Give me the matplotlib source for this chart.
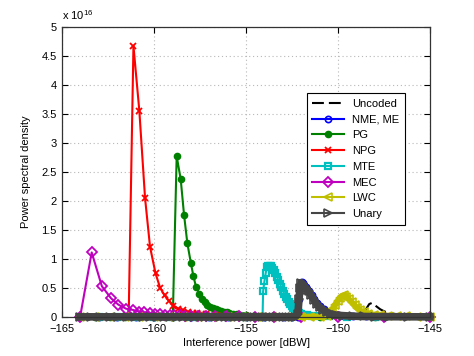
import matplotlib.pyplot as plt

plt.rcParams['font.family'] = ['Liberation Sans', 'DejaVu Sans']
plt.rcParams['mathtext.default'] = 'regular'

# values, y in units of 1e16
uncoded_x = [-164.0, -160.0, -156.0, -152.0, -149.0, -148.7, -148.5, -148.3,
             -148.15, -147.95, -147.7, -147.45, -147.1, -146.6, -146.0, -145.0]
uncoded_y = [0, 0, 0, 0, 0, 0, 0.12, 0.22,
             0.24, 0.19, 0.13, 0.09, 0.06, 0.035, 0.02, 0.008]

nme_x = [-164.0, -163.0, -162.0, -161.0, -160.0, -159.0, -158.0, -157.0,
         -156.0, -155.0, -154.0, -153.0, -152.5, -152.16, -152.1, -152.04,
         -151.98, -151.9, -151.82, -151.74, -151.66, -151.58, -151.43, -151.28,
         -151.13, -150.98, -150.78, -150.58, -150.38, -150.08, -149.68, -149.18,
         -148.5, -147.5, -145.0]
nme_y = [0, 0, 0, 0, 0, 0, 0, 0,
         0, 0, 0, 0, 0, 0, 0.3, 0.5,
         0.6, 0.58, 0.55, 0.51, 0.48, 0.45, 0.38, 0.3,
         0.23, 0.18, 0.13, 0.085, 0.055, 0.03, 0.02, 0.012,
         0.006, 0.003, 0]

pg_x = [-164.0, -163.2, -162.4, -161.6, -160.8, -160.0, -159.4, -158.98,
        -158.77, -158.55, -158.37, -158.19, -158.0, -157.86, -157.72, -157.54,
        -157.4, -157.25, -157.1, -156.95, -156.8, -156.65, -156.5, -156.35,
        -156.2, -156.05, -155.9, -155.7, -155.5, -155.3, -155.0, -154.6,
        -154.1, -153.4, -152.5, -151.0, -148.0, -145.0]
pg_y = [0, 0, 0, 0, 0, 0, 0, 0,
        2.77, 2.37, 1.76, 1.27, 0.93, 0.70, 0.52, 0.40,
        0.31, 0.26, 0.21, 0.175, 0.15, 0.13, 0.115, 0.10,
        0.088, 0.077, 0.067, 0.056, 0.046, 0.038, 0.028, 0.019,
        0.012, 0.007, 0.004, 0.002, 0.001, 0]

npg_x = [-164.0, -163.4, -162.8, -162.2, -161.6, -161.38, -161.12, -160.8,
         -160.49, -160.22, -159.92, -159.67, -159.43, -159.17, -158.95, -158.68,
         -158.42, -158.15, -157.9, -157.65, -157.4, -157.15, -156.9, -156.6,
         -156.2, -155.7, -155.0, -154.0, -152.5, -150.0, -145.0]
npg_y = [0, 0, 0, 0, 0, 0, 4.67, 3.55,
         2.05, 1.21, 0.75, 0.50, 0.37, 0.27, 0.19, 0.14,
         0.11, 0.088, 0.072, 0.06, 0.05, 0.042, 0.035, 0.028,
         0.021, 0.015, 0.01, 0.006, 0.003, 0.001, 0]

mte_x = [-164.0, -163.0, -162.0, -161.0, -160.0, -159.0, -158.0, -157.0,
         -156.0, -155.0, -154.1, -154.07, -154.0, -153.93, -153.87, -153.8,
         -153.72, -153.64, -153.56, -153.48, -153.4, -153.32, -153.24, -153.16,
         -153.08, -153.0, -152.92, -152.84, -152.76, -152.68, -152.6, -152.52,
         -152.44, -152.36, -152.28, -152.2, -152.1, -152.0, -151.85, -151.7,
         -151.4, -151.0, -150.5, -149.5, -148.0, -145.0]
mte_y = [0, 0, 0, 0, 0, 0, 0, 0,
         0, 0, 0, 0.44, 0.61, 0.75, 0.86, 0.88,
         0.88, 0.87, 0.84, 0.8, 0.75, 0.69, 0.63, 0.57,
         0.51, 0.45, 0.4, 0.35, 0.3, 0.26, 0.22, 0.18,
         0.15, 0.12, 0.1, 0.08, 0.063, 0.05, 0.038, 0.03,
         0.02, 0.012, 0.007, 0.003, 0.001, 0]

mec_x = [-164.02, -163.39, -162.84, -162.34, -161.94, -161.52, -161.16, -160.82,
         -160.53, -160.22, -159.95, -159.67, -159.4, -159.15, -158.9, -158.6,
         -158.3, -158.0, -157.6, -157.2, -156.7, -156.1, -155.4, -154.5,
         -153.5, -152.0, -150.0, -147.5, -145.0]
mec_y = [0, 1.11, 0.53, 0.32, 0.21, 0.14, 0.12, 0.09,
         0.075, 0.063, 0.052, 0.044, 0.038, 0.033, 0.029, 0.025,
         0.022, 0.019, 0.016, 0.013, 0.011, 0.009, 0.007, 0.005,
         0.004, 0.003, 0.002, 0.001, 0]

lwc_x = [-164.0, -163.2, -162.4, -161.6, -160.8, -160.0, -159.2, -158.4,
         -157.6, -156.8, -156.0, -155.2, -154.4, -153.6, -152.8, -152.0,
         -151.5, -151.0, -150.6, -150.45, -150.3, -150.15, -150.0, -149.88,
         -149.78, -149.68, -149.55, -149.4, -149.25, -149.1, -148.95, -148.8,
         -148.6, -148.35, -148.05, -147.7, -147.3, -146.8, -146.3, -145.7,
         -145.0]
lwc_y = [0, 0, 0, 0, 0, 0, 0, 0,
         0, 0, 0, 0, 0, 0, 0, 0,
         0, 0, 0.01, 0.06, 0.13, 0.21, 0.28, 0.33,
         0.36, 0.37, 0.35, 0.3, 0.25, 0.2, 0.15, 0.11,
         0.075, 0.05, 0.035, 0.025, 0.016, 0.01, 0.006, 0.003,
         0]

unary_x = [-164.0, -163.45, -162.92, -162.42, -161.94, -161.48, -161.04, -160.62,
           -160.22, -159.84, -159.47, -159.11, -158.77, -158.44, -158.12, -157.81,
           -157.51, -157.22, -156.94, -156.67, -156.41, -156.15, -155.9, -155.66,
           -155.42, -155.19, -154.97, -154.75, -154.54, -154.33, -154.13, -153.93,
           -153.74, -153.55, -153.36, -153.18, -153.0, -152.83, -152.66, -152.49,
           -152.33, -152.18, -152.12, -152.06, -152.0, -151.92, -151.84, -151.76,
           -151.68, -151.6, -151.45, -151.3, -151.15, -151.0, -150.8, -150.6,
           -150.4, -150.1, -149.7, -149.2, -148.6, -148.0, -147.2, -146.2,
           -145.0]
unary_y = [0, 0, 0, 0, 0, 0, 0, 0,
           0, 0, 0, 0, 0, 0, 0, 0,
           0, 0, 0, 0, 0, 0, 0, 0,
           0, 0, 0, 0, 0, 0, 0, 0,
           0, 0, 0, 0, 0, 0, 0, 0,
           0, 0.05, 0.3, 0.5, 0.59, 0.57, 0.54, 0.5,
           0.47, 0.44, 0.37, 0.29, 0.22, 0.17, 0.12, 0.08,
           0.05, 0.03, 0.02, 0.012, 0.006, 0.004, 0.002, 0.001,
           0]

fig = plt.figure(figsize=(4.74, 3.56), dpi=100)
ax = fig.add_axes([0.131, 0.11, 0.776, 0.815])

ax.plot(uncoded_x, uncoded_y, color='k', lw=1.5, dashes=(5.7, 2.4),
        label='Uncoded', clip_on=False)
ax.plot(nme_x, nme_y, color='b', lw=1.5, marker='o', ms=4.5, mfc='none',
        mew=1.2, label='NME, ME', clip_on=False)
ax.plot(pg_x, pg_y, color=(0, 0.5, 0), lw=1.5, marker='o', ms=4.5,
        label='PG', clip_on=False)
ax.plot(npg_x, npg_y, color='r', lw=1.5, marker='x', ms=4.5, mew=1.3,
        label='NPG', clip_on=False)
ax.plot(mte_x, mte_y, color=(0, 0.75, 0.75), lw=1.5, marker='s', ms=4.5,
        mfc='none', mew=1.6, label='MTE', clip_on=False)
ax.plot(mec_x, mec_y, color=(0.75, 0, 0.75), lw=1.5, marker='D', ms=5,
        mfc='none', mew=1.3, label='MEC', clip_on=False)
ax.plot(lwc_x, lwc_y, color=(0.75, 0.75, 0), lw=4.5, marker='<', ms=5.5,
        mfc='none', mew=1.2, label='LWC', clip_on=False)
ax.plot(unary_x, unary_y, color=(0.27, 0.27, 0.27), lw=5.5, marker='>',
        ms=5.5, mfc='none', mew=1.2, label='Unary', clip_on=False)

ax.set_xlim(-165, -145)
ax.set_ylim(0, 5)
ax.set_xticks([-165, -160, -155, -150, -145])
ax.set_yticks([0, 0.5, 1, 1.5, 2, 2.5, 3, 3.5, 4, 4.5, 5])
ax.set_yticklabels(['0', '0.5', '1', '1.5', '2', '2.5', '3', '3.5', '4',
                    '4.5', '5'])
ax.tick_params(direction='in', top=True, right=True, labelsize=8, length=4,
               width=0.8)
ax.tick_params(axis='x', pad=5)
ax.tick_params(axis='y', pad=4)
ax.grid(True, color='#b8b8b8', linestyle=(0, (1, 2.5)), linewidth=0.8)
ax.set_axisbelow(True)
for s in ax.spines.values():
    s.set_linewidth(0.9)
    s.set_color('#333333')

ax.set_xlabel('Interference power [dBW]', fontsize=8, labelpad=3)
ax.set_ylabel('Power spectral density', fontsize=8, labelpad=7)
ax.text(0, 1.015, r'x 10$^{16}$', transform=ax.transAxes, fontsize=8,
        ha='left', va='bottom')

leg = ax.legend(loc='upper left', bbox_to_anchor=(0.665, 0.771), fontsize=8,
                fancybox=False, framealpha=1, edgecolor='k',
                handlelength=2.9, labelspacing=0.52, borderpad=0.5,
                handletextpad=0.7, borderaxespad=0)
leg.get_frame().set_linewidth(0.8)
for h in leg.get_lines():
    h.set_linewidth(1.5)

fig.savefig('out.png', dpi=100)
